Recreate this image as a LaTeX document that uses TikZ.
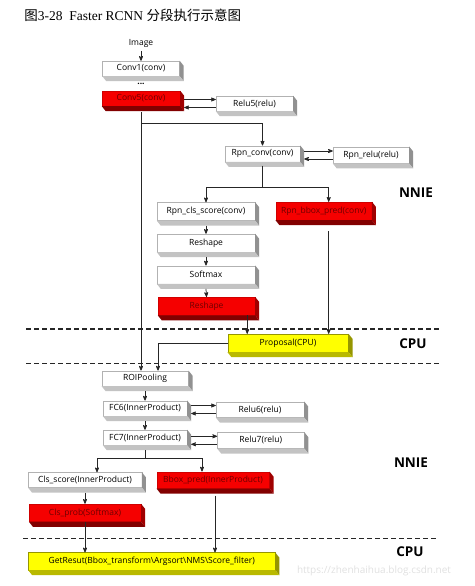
\documentclass[tikz,border=0pt]{standalone}
\usepackage{fontspec}
\setmainfont{Liberation Serif}
\setsansfont{Open Sans}
\newfontfamily\cjk{Noto Sans CJK SC}
\usetikzlibrary{arrows}

\definecolor{boxred}{RGB}{245,0,0}
\definecolor{redtext}{RGB}{110,0,0}
\definecolor{boxyel}{RGB}{255,255,0}
\definecolor{wsd}{RGB}{145,145,145}
\definecolor{wbt}{RGB}{195,195,195}
\definecolor{rsd}{RGB}{160,0,0}
\definecolor{rbt}{RGB}{130,0,0}
\definecolor{ysd}{RGB}{150,150,0}
\definecolor{ybt}{RGB}{185,185,0}

% right and bottom faces of a box
\newcommand{\slab}[3]{%
	\fill[#2] (#1.north east) -- ++(4,5) -- ([shift={(4,5)}]#1.south east) -- (#1.south east) -- cycle;
	\fill[#3] (#1.south west) -- (#1.south east) -- ([shift={(4,5)}]#1.south east) -- ([shift={(4,5)}]#1.south west) -- cycle;}

\begin{document}
\begin{tikzpicture}[x=1pt, y=-1pt, ->, >=stealth', line width=0.75pt, draw=black!85,
		box/.style={draw=black!30, line width=0.4pt, fill=white, minimum height=15, inner sep=0, font=\sffamily\fontsize{8.5}{10}\selectfont},
		redbox/.style={box, draw=boxred!85!black, fill=boxred, text=redtext},
		yelbox/.style={box, draw=ysd, fill=boxyel},
		zone/.style={font=\sffamily\bfseries\fontsize{13.5}{16}\selectfont},
		split/.style={-, line width=1.6pt, dash pattern=on 5pt off 3pt}]
	\useasboundingbox (0,0) rectangle (474,586);

	\node[anchor=west, inner sep=0, font=\fontsize{13.5}{16}\selectfont] (title) at (24,15) {{\cjk 图}3-28\ \ Faster RCNN {\cjk 分段执行示意图}};

	\node[font=\sffamily\fontsize{8.5}{10}\selectfont] (image) at (141,43) {Image};
	\node[box, minimum width=77] (conv1) at (141,68.5) {Conv1(conv)};
	\node[font=\sffamily\bfseries\fontsize{8.5}{10}\selectfont] (dots) at (141,84) {...};
	\node[redbox, minimum width=78] (conv5) at (141,98.5) {Conv5(conv)};
	\node[box, minimum width=77] (relu5) at (254.5,103.5) {Relu5(relu)};
	\node[box, minimum width=75, minimum height=16] (rpnconv) at (262.5,153.7) {Rpn\_conv(conv)};
	\node[box, minimum width=76, minimum height=16.5] (rpnrelu) at (371,155) {Rpn\_relu(relu)};
	\node[box, minimum width=98, minimum height=18] (rpncls) at (206,211.5) {Rpn\_cls\_score(conv)};
	\node[redbox, minimum width=96, minimum height=18] (rpnbbox) at (323.7,211) {Rpn\_bbox\_pred(conv)};
	\node[box, minimum width=98, minimum height=18] (reshape) at (206,243) {Reshape};
	\node[box, minimum width=98, minimum height=18] (softmax) at (206,274.7) {Softmax};
	\node[redbox, minimum width=97, minimum height=18] (reshapered) at (206.5,306.2) {Reshape};
	\node[yelbox, minimum width=120.6, minimum height=18] (proposal) at (288,343) {Proposal(CPU)};

	\node[box, minimum width=86.6] (roipool) at (145,378.3) {ROIPooling};
	\node[box, minimum width=84] (fc6) at (145,408.3) {FC6(InnerProduct)};
	\node[box, minimum width=88, minimum height=15.6] (relu6) at (260,409.5) {Relu6(relu)};
	\node[box, minimum width=84] (fc7) at (145,437.5) {FC7(InnerProduct)};
	\node[box, minimum width=86.7, minimum height=16] (relu7) at (260.7,440.3) {Relu7(relu)};
	\node[box, minimum width=113.4] (clsscore) at (85,480) {Cls\_score(InnerProduct)};
	\node[redbox, minimum width=112.6, minimum height=16.6] (bboxpred) at (213,480) {Bbox\_pred(InnerProduct)};
	\node[redbox, minimum width=111.7, minimum height=17.7] (clsprob) at (85,512.8) {Cls\_prob(Softmax)};
	\node[yelbox, minimum width=246.7, minimum height=17.3] (getres) at (151.7,561.3) {GetResut(Bbox\_transform\textbackslash Argsort\textbackslash NMS\textbackslash Score\_filter)};

	\foreach \n/\k in {conv1/w, conv5/r, relu5/w, rpnconv/w, rpnrelu/w, rpncls/w, rpnbbox/r, reshape/w, softmax/w, reshapered/r, proposal/y,
			roipool/w, fc6/w, relu6/w, fc7/w, relu7/w, clsscore/w, bboxpred/r, clsprob/r, getres/y}
		\slab{\n}{\k sd}{\k bt};

	\node[zone] (nnie1) at (416,193) {NNIE};
	\node[zone] (cpu1) at (413,344) {CPU};
	\node[zone] (nnie2) at (411,463) {NNIE};
	\node[zone] (cpu2) at (410,552) {CPU};
	\node[text=black!12, font=\sffamily\fontsize{10}{12}\selectfont] (mark) at (374,571) {https://zhenhaihua.blog.csdn.net};

	\draw[split] (26,329) -- (440,329);
	\draw[split] (26,363.3) -- (440,363.3);
	\draw[split] (23,538.5) -- (437,538.5);

	\draw (image) -- (conv1);
	\draw (relu5.west -| conv5.east) ++(4,-4) -- ([yshift=4pt]relu5.west);
	\draw[<-] (relu5.west -| conv5.east) ++(4,4) -- ([yshift=-4pt]relu5.west);
	\draw ([yshift=-6pt]conv5.south) -- (conv5.south |- roipool.north);
	\draw ([yshift=-6pt]conv5.south) -- ++(0,11) -| (rpnconv.north);
	\draw (rpnrelu.west -| rpnconv.east) ++(4,-4) -- ([yshift=4pt]rpnrelu.west);
	\draw[<-] (rpnrelu.west -| rpnconv.east) ++(4,4) -- ([yshift=-4pt]rpnrelu.west);
	\draw ([yshift=-4pt]rpnconv.south) -- ++(0,21.5) -| (rpncls.north);
	\draw ([yshift=-4pt]rpnconv.south) -- ++(0,21.5) -| ([xshift=5pt]rpnbbox.north);
	\draw ([yshift=-5pt]rpncls.south) -- (reshape.north);
	\draw ([yshift=-5pt]reshape.south) -- (softmax.north);
	\draw ([yshift=-5pt]softmax.south) -- (reshapered.north);
	\draw ([xshift=-8pt]reshapered.south east) coordinate (rs) -- (rs |- proposal.north);
	\draw ([shift={(5,11)}]rpnbbox.south) coordinate (rb) -- (rb |- proposal.north);
	\draw (proposal.west) -| ([xshift=13pt]roipool.north);

	\draw ([yshift=-5pt]roipool.south) -- (fc6.north);
	\draw (relu6.west -| fc6.east) ++(4,-4) -- ([yshift=4pt]relu6.west);
	\draw[<-] (relu6.west -| fc6.east) ++(4,4) -- ([yshift=-4pt]relu6.west);
	\draw ([yshift=-5pt]fc6.south) -- (fc7.north);
	\draw (relu7.west -| fc7.east) ++(4,-4) -- ([yshift=4pt]relu7.west);
	\draw[<-] (relu7.west -| fc7.east) ++(4,4) -- ([yshift=-4pt]relu7.west);
	\draw ([yshift=-5pt]fc7.south) -- ++(0,8.3) -| ([xshift=12pt]clsscore.north);
	\draw ([yshift=-5pt]fc7.south) -- ++(0,8.3) -| ([xshift=-11pt]bboxpred.north);
	\draw ([yshift=-5pt]clsscore.south) -- (clsprob.north);
	\draw (clsprob.south) -- (clsprob.south |- getres.north);
	\draw ([shift={(2,7)}]bboxpred.south) coordinate (bp) -- (bp |- getres.north);
\end{tikzpicture}
\end{document}
